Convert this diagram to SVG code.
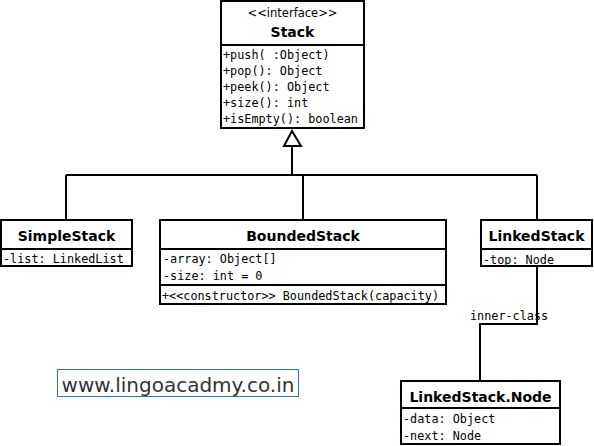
<svg xmlns="http://www.w3.org/2000/svg" width="594" height="446" viewBox="0 0 594 446">
<style>
.box{fill:#fff;stroke:#000;stroke-width:2}
.div{stroke:#000;stroke-width:2}
.title{font-family:"DejaVu Sans",sans-serif;font-weight:bold;font-size:14px;text-anchor:middle;fill:#000}
.stereo{font-family:"DejaVu Sans",sans-serif;font-size:11.5px;text-anchor:middle;fill:#000}
.mem{font-family:"DejaVu Sans Mono",monospace;font-size:11.8px;fill:#000}
.conn{fill:none;stroke:#000;stroke-width:2}
</style>
<rect width="594" height="446" fill="#fff"/>
<g id="connectors">
<path class="conn" d="M292,146 V175 M66,175 H537 M66,175 V220 M303,175 V220 M537,175 V220"/>
<polygon points="292,131 284,146 301,146" fill="#fff" stroke="#000" stroke-width="2"/>
<path class="conn" d="M537,266 V324 H480 V381"/>
<text class="mem" x="470" y="320">inner-class</text>
</g>
<g id="Stack">
<rect class="box" x="221" y="1" width="143" height="127"/>
<line class="div" x1="221" y1="45" x2="364" y2="45"/>
<text class="stereo" x="292.5" y="17">&lt;&lt;interface&gt;&gt;</text>
<text class="title" x="292.5" y="37">Stack</text>
<text class="mem" x="223" y="59">+push( :Object)</text>
<text class="mem" x="223" y="75">+pop(): Object</text>
<text class="mem" x="223" y="91">+peek(): Object</text>
<text class="mem" x="223" y="107">+size(): int</text>
<text class="mem" x="223" y="123">+isEmpty(): boolean</text>
</g>
<g id="SimpleStack">
<rect class="box" x="1" y="220" width="131" height="46"/>
<line class="div" x1="1" y1="249" x2="132" y2="249"/>
<text class="title" x="66.5" y="241">SimpleStack</text>
<text class="mem" x="3" y="263">-list: LinkedList</text>
</g>
<g id="BoundedStack">
<rect class="box" x="160" y="220" width="286" height="84"/>
<line class="div" x1="160" y1="249" x2="446" y2="249"/>
<line class="div" x1="160" y1="285" x2="446" y2="285"/>
<text class="title" x="303" y="241">BoundedStack</text>
<text class="mem" x="163" y="263">-array: Object[]</text>
<text class="mem" x="163" y="280">-size: int = 0</text>
<text class="mem" x="162" y="300">+&lt;&lt;constructor&gt;&gt; BoundedStack(capacity)</text>
</g>
<g id="LinkedStack">
<rect class="box" x="481" y="220" width="111" height="46"/>
<line class="div" x1="481" y1="249" x2="592" y2="249"/>
<text class="title" x="536.5" y="241">LinkedStack</text>
<text class="mem" x="483" y="264">-top: Node</text>
</g>
<g id="LinkedStackNode">
<rect class="box" x="401" y="381" width="159" height="63"/>
<line class="div" x1="401" y1="408" x2="560" y2="408"/>
<text class="title" x="480.5" y="402">LinkedStack.Node</text>
<text class="mem" x="403" y="423">-data: Object</text>
<text class="mem" x="403" y="440">-next: Node</text>
</g>
<g id="watermark">
<rect x="57.5" y="369.5" width="241" height="27" fill="#fff" stroke="#2e75b6" stroke-width="1"/>
<text x="178" y="392" font-family="DejaVu Sans, sans-serif" font-size="20" fill="#333" text-anchor="middle">www.lingoacadmy.co.in</text>
</g>
</svg>
